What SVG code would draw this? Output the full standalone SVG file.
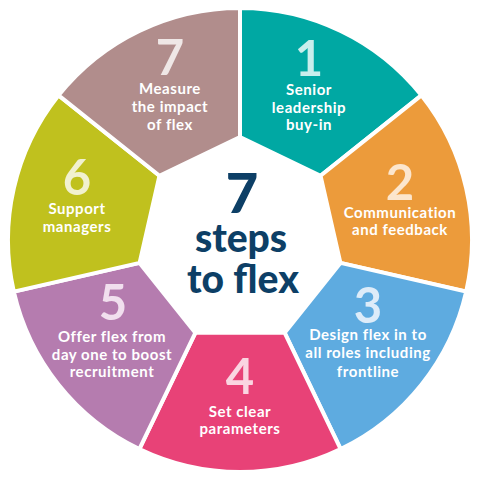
<svg xmlns="http://www.w3.org/2000/svg" width="480" height="480" viewBox="0 0 480 480">
<style>
.seg{stroke:#fff;stroke-width:4;stroke-linejoin:miter}
.num{font-family:Lato,"Liberation Sans",sans-serif;font-weight:700;font-size:49px;text-anchor:middle}
.lbl{font-family:Lato,"Liberation Sans",sans-serif;font-weight:700;font-size:15px;letter-spacing:0.55px;fill:#fff;text-anchor:middle}
.ctr{font-family:Lato,"Liberation Sans",sans-serif;font-weight:900;fill:#0D3F66;text-anchor:middle}
</style>
<rect width="480" height="480" fill="#fff"/>
<g id="step1">
<path class="seg" fill="#00A8A3" d="M240,137 L240,8 A232,232 0 0 1 421.38,95.35 L320.53,175.78 Z"/>
<text class="num" x="309" y="76" fill="#C9EEEC">1</text>
<text class="lbl" x="309" y="95">Senior</text>
<text class="lbl" x="309" y="113">leadership</text>
<text class="lbl" x="309" y="130">buy-in</text>
</g>
<g id="step2">
<path class="seg" fill="#EC9B3B" d="M320.53,175.78 L421.38,95.35 A232,232 0 0 1 466.18,291.62 L340.42,262.92 Z"/>
<text class="num" x="400" y="200" fill="#FCE6CD">2</text>
<text class="lbl" x="400" y="218">Communication</text>
<text class="lbl" x="400" y="235">and feedback</text>
</g>
<g id="step3">
<path class="seg" fill="#5EABE0" d="M340.42,262.92 L466.18,291.62 A232,232 0 0 1 340.66,449.03 L284.69,332.8 Z"/>
<text class="num" x="368" y="323" fill="#DDECF9">3</text>
<text class="lbl" x="368" y="340">Design flex in to</text>
<text class="lbl" x="368" y="358">all roles including</text>
<text class="lbl" x="368" y="377">frontline</text>
</g>
<g id="step4">
<path class="seg" fill="#E84277" d="M284.69,332.8 L340.66,449.03 A232,232 0 0 1 139.34,449.03 L195.31,332.8 Z"/>
<text class="num" x="240" y="394" fill="#FAD5E1">4</text>
<text class="lbl" x="240" y="417">Set clear</text>
<text class="lbl" x="240" y="434">parameters</text>
</g>
<g id="step5">
<path class="seg" fill="#B57CAF" d="M195.31,332.8 L139.34,449.03 A232,232 0 0 1 13.82,291.62 L139.58,262.92 Z"/>
<text class="num" x="113" y="320" fill="#F1DFEE">5</text>
<text class="lbl" x="112" y="342">Offer flex from</text>
<text class="lbl" x="112" y="360">day one to boost</text>
<text class="lbl" x="112" y="377">recruitment</text>
</g>
<g id="step6">
<path class="seg" fill="#C0C11E" d="M139.58,262.92 L13.82,291.62 A232,232 0 0 1 58.62,95.35 L159.47,175.78 Z"/>
<text class="num" x="77" y="195" fill="#F1F1CF">6</text>
<text class="lbl" x="77" y="214">Support</text>
<text class="lbl" x="77" y="232">managers</text>
</g>
<g id="step7">
<path class="seg" fill="#B18D8C" d="M159.47,175.78 L58.62,95.35 A232,232 0 0 1 240,8 L240,137 Z"/>
<text class="num" x="170" y="75" fill="#EFE7E6">7</text>
<text class="lbl" x="170" y="94">Measure</text>
<text class="lbl" x="170" y="112">the impact</text>
<text class="lbl" x="170" y="130">of flex</text>
</g>
<g id="center">
<text class="ctr" x="242" y="213" font-size="56">7</text>
<text class="ctr" x="241" y="252" font-size="39">steps</text>
<text class="ctr" x="243" y="293" font-size="39">to flex</text>
</g>
</svg>
